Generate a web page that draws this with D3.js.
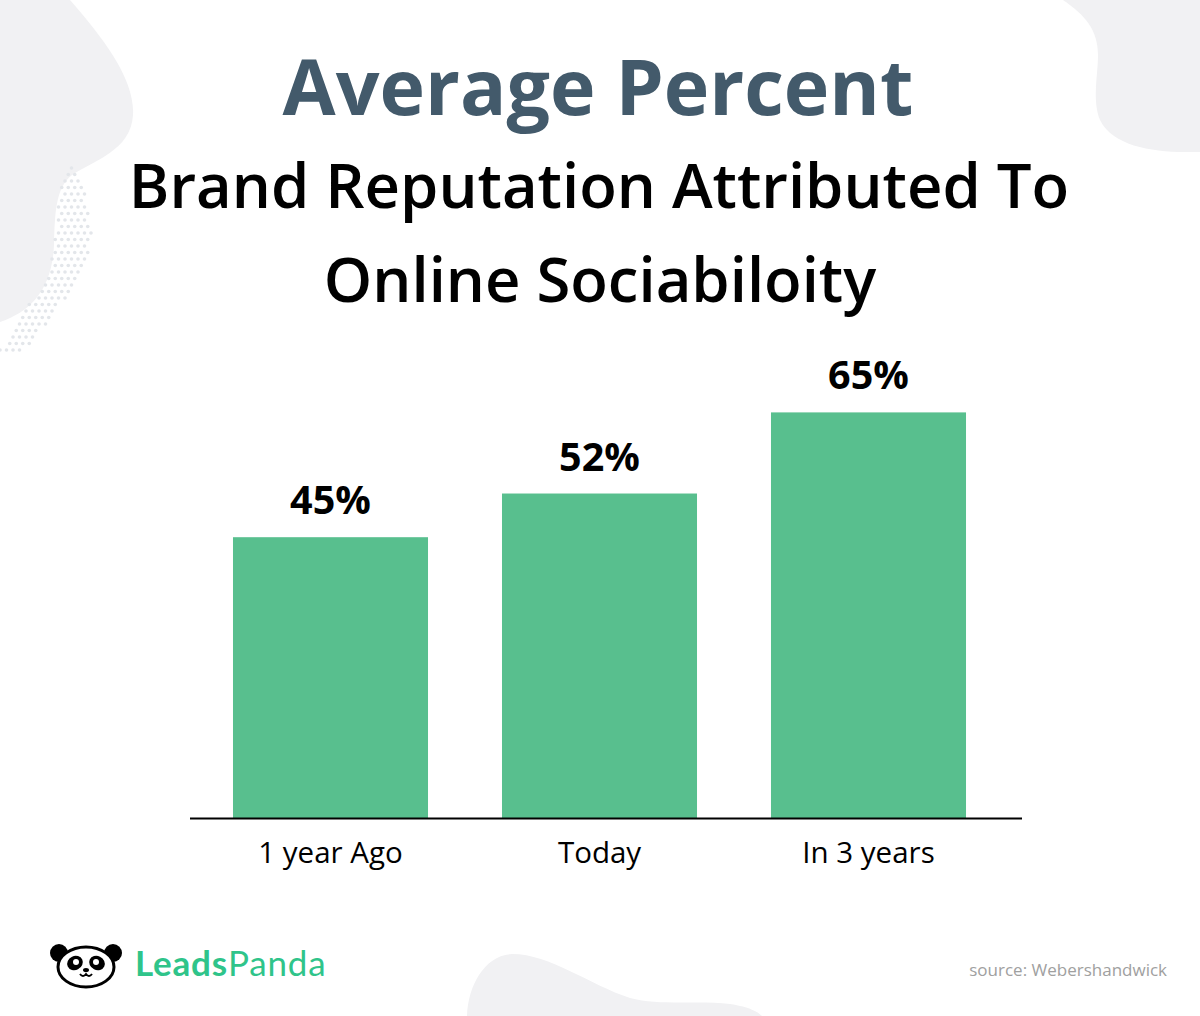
<!DOCTYPE html>
<html>
<head>
<meta charset="utf-8">
<script src="https://cdn.jsdelivr.net/npm/d3@7"></script>
<style>
  html, body { margin: 0; padding: 0; background: #fff; }
  svg { display: block; font-family: "Open Sans", sans-serif; }
</style>
</head>
<body>
<div id="chart"></div>
<script>
var categories = ["1 year Ago", "Today", "In 3 years"];
var values = [45, 52, 65];
var valueLabels = ["45%", "52%", "65%"];

var svgWidth = 1200;
var svgHeight = 1016;

var svg = d3.select("#chart")
  .append("svg")
  .attr("width", svgWidth)
  .attr("height", svgHeight);

svg.append("rect")
  .attr("width", svgWidth)
  .attr("height", svgHeight)
  .attr("fill", "#ffffff");

// background blobs
var blobColor = "#f1f1f3";
var bg = svg.append("g");

bg.append("path")
  .attr("d", "M0,0 L70,0 C105,40 135,80 133,115 C131,150 95,160 72,175 C55,188 55,215 54,245 C52,290 30,312 0,322 Z")
  .attr("fill", blobColor);

bg.append("path")
  .attr("d", "M1063,0 C1085,15 1098,30 1098,55 C1098,75 1092,100 1100,120 C1112,145 1150,152 1185,152 L1200,152 L1200,0 Z")
  .attr("fill", blobColor);

bg.append("path")
  .attr("d", "M467,1016 C468,985 485,955 512,954 C550,954 590,985 630,998 C660,1006 700,1000 730,1004 C750,1007 758,1012 762,1016 Z")
  .attr("fill", blobColor);

// dotted crescent round the lower left blob
var innerEdge = d3.scaleLinear().domain([168, 200, 233, 267, 300, 330, 350]).range([66, 58, 56, 50, 32, 12, 0]).clamp(true);
var outerEdge = d3.scaleLinear().domain([168, 183, 233, 270, 300, 330, 350]).range([72, 84, 92, 84, 65, 42, 25]).clamp(true);
var dots = [];
for (var gy = 168; gy <= 350; gy += 6.5) {
  for (var gx = 0; gx <= 100; gx += 6.5) {
    var px = gx + (Math.round((gy - 168) / 6.5) % 2) * 3.25;
    if (px >= innerEdge(gy) && px <= outerEdge(gy)) dots.push([px, gy]);
  }
}
bg.selectAll("circle.dot")
  .data(dots)
  .enter()
  .append("circle")
  .attr("class", "dot")
  .attr("cx", d => d[0])
  .attr("cy", d => d[1])
  .attr("r", 1.8)
  .attr("fill", "#e3e6ea");

// titles
svg.append("text")
  .attr("x", 598)
  .attr("y", 115)
  .attr("text-anchor", "middle")
  .attr("fill", "#435a6b")
  .attr("font-size", 77)
  .attr("font-weight", 700)
  .text("Average Percent");

svg.append("text")
  .attr("x", 599)
  .attr("y", 208)
  .attr("text-anchor", "middle")
  .attr("fill", "#000")
  .attr("font-size", 61.6)
  .attr("font-weight", 600)
  .text("Brand Reputation Attributed To");

svg.append("text")
  .attr("x", 600)
  .attr("y", 302)
  .attr("text-anchor", "middle")
  .attr("fill", "#000")
  .attr("font-size", 61.6)
  .attr("font-weight", 600)
  .text("Online Sociabiloity");

// chart
var baseY = 818;
var xScale = d3.scaleBand()
  .domain(categories)
  .range([196, 1003])
  .paddingInner(0.275)
  .paddingOuter(0.1375);

var yScale = d3.scaleLinear()
  .domain([0, 100])
  .range([baseY, 194]);

var chartGroup = svg.append("g");

chartGroup.selectAll("rect.bar")
  .data(values)
  .enter()
  .append("rect")
  .attr("class", "bar")
  .attr("x", (d, i) => xScale(categories[i]))
  .attr("y", d => yScale(d))
  .attr("width", xScale.bandwidth())
  .attr("height", d => baseY - yScale(d))
  .attr("fill", "#58bf8e");

chartGroup.selectAll("text.val")
  .data(values)
  .enter()
  .append("text")
  .attr("class", "val")
  .attr("x", (d, i) => xScale(categories[i]) + xScale.bandwidth() / 2)
  .attr("y", d => yScale(d) - 23)
  .attr("text-anchor", "middle")
  .attr("font-size", 39.5)
  .attr("font-weight", 700)
  .attr("fill", "#000")
  .text((d, i) => valueLabels[i]);

var xAxis = d3.axisBottom(xScale).tickSize(0).tickPadding(0);
var axisG = chartGroup.append("g")
  .attr("transform", `translate(0, ${baseY})`)
  .call(xAxis);
axisG.select(".domain").remove();
axisG.selectAll("text")
  .attr("dy", null)
  .attr("y", 45)
  .attr("font-family", "Open Sans, sans-serif")
  .attr("font-size", 29.5)
  .attr("fill", "#000");

chartGroup.append("line")
  .attr("x1", 190)
  .attr("x2", 1022)
  .attr("y1", baseY + 0.5)
  .attr("y2", baseY + 0.5)
  .attr("stroke", "#000")
  .attr("stroke-width", 2);

// logo
var logo = svg.append("g");
logo.append("circle").attr("cx", 59).attr("cy", 953).attr("r", 9).attr("fill", "#000");
logo.append("circle").attr("cx", 113).attr("cy", 953).attr("r", 9).attr("fill", "#000");
logo.append("ellipse").attr("cx", 86).attr("cy", 967).attr("rx", 28).attr("ry", 20)
  .attr("fill", "#fff").attr("stroke", "#000").attr("stroke-width", 3);
logo.append("ellipse").attr("cx", 75).attr("cy", 963).attr("rx", 8).attr("ry", 7)
  .attr("transform", "rotate(-25 75 963)").attr("fill", "#000");
logo.append("ellipse").attr("cx", 97).attr("cy", 963).attr("rx", 8).attr("ry", 7)
  .attr("transform", "rotate(25 97 963)").attr("fill", "#000");
logo.append("circle").attr("cx", 76).attr("cy", 962).attr("r", 3).attr("fill", "#fff");
logo.append("circle").attr("cx", 96).attr("cy", 962).attr("r", 3).attr("fill", "#fff");
logo.append("ellipse").attr("cx", 86).attr("cy", 970).attr("rx", 3).attr("ry", 2).attr("fill", "#000");
logo.append("path").attr("d", "M80,974 Q83,978 86,974 Q89,978 92,974")
  .attr("fill", "none").attr("stroke", "#000").attr("stroke-width", 2);

var brand = svg.append("text")
  .attr("x", 135)
  .attr("y", 976)
  .attr("font-family", "Lato, sans-serif")
  .attr("font-size", 35)
  .attr("letter-spacing", 0.8)
  .attr("fill", "#2fc48a");
brand.append("tspan").attr("font-weight", 700).text("Leads");
brand.append("tspan").attr("font-weight", 400).text("Panda");

svg.append("text")
  .attr("x", 1167)
  .attr("y", 976)
  .attr("text-anchor", "end")
  .attr("font-size", 17)
  .attr("fill", "#a0a0a0")
  .text("source: Webershandwick");
</script>
</body>
</html>
